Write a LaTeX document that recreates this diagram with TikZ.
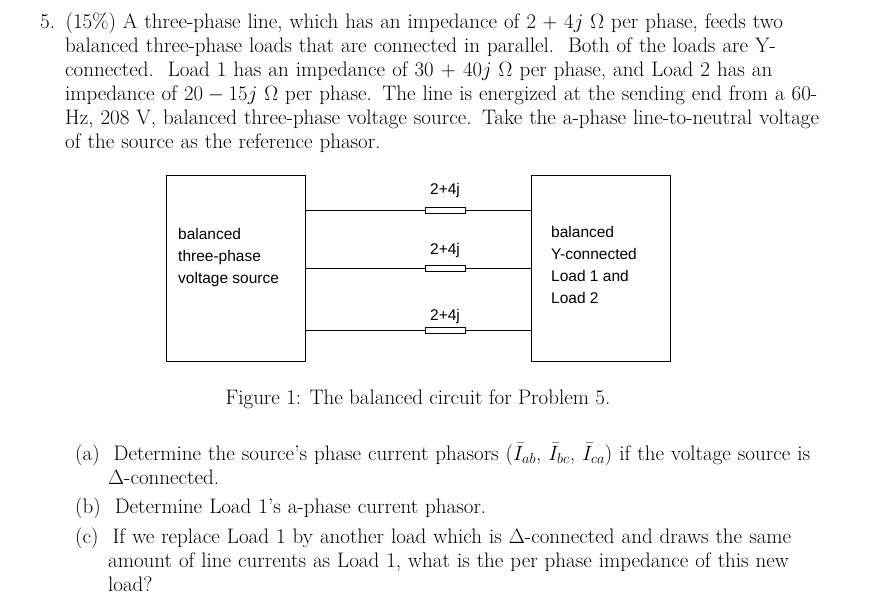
\documentclass[tikz,border=0pt]{standalone}
\usepackage{fontspec}
\newfontfamily\arialf{Liberation Sans}
\begin{document}
\begin{tikzpicture}[x=1pt,y=-1pt,
  box/.style={draw,line width=0.9pt},
  wire/.style={line width=0.9pt},
  res/.style={draw,line width=0.9pt,fill=white,minimum width=40pt,minimum height=6pt,inner sep=0pt},
  lbl/.style={font=\arialf\fontsize{15.5}{18}\selectfont,inner sep=0pt},
  body/.style={inner sep=0pt,anchor=north west,font=\fontsize{21}{24}\selectfont}]
\useasboundingbox (0,0) rectangle (873,615);
\node[body,text width=780pt] (para) at (40,13) {\hangindent=25pt\hangafter=1\noindent
5. (15\%) A three-phase line, which has an impedance of $2+4j$ $\Omega$ per phase, feeds two\linebreak
balanced three-phase loads that are connected in parallel.\ \ Both of the loads are Y-\linebreak
connected.\ \ Load 1 has an impedance of $30+40j$ $\Omega$ per phase, and Load 2 has an\linebreak
impedance of $20-15j$ $\Omega$ per phase. The line is energized at the sending end from a 60-\linebreak
Hz, 208 V, balanced three-phase voltage source. Take the a-phase line-to-neutral voltage\linebreak
of the source as the reference phasor.\par};
\node[box,minimum width=139pt,minimum height=186pt,inner sep=0pt] (src) at (235.5,268) {};
\node[box,minimum width=139pt,minimum height=186pt,inner sep=0pt] (load) at (600.5,268) {};
\node[lbl,anchor=west,align=left] (srct) at (178,257) {balanced\\[4pt]three-phase\\[4pt]voltage source};
\node[lbl,anchor=west,align=left] (loadt) at (551,265) {balanced\\[4pt]Y-connected\\[4pt]Load 1 and\\[4pt]Load 2};
\foreach \i/\y/\ly in {1/210/190,2/268/250,3/330/316}{
  \coordinate (l\i) at (src.east |- 0,\y);
  \coordinate (r\i) at (load.west |- 0,\y);
  \draw[wire] (l\i) -- (r\i);
  \node[res] (R\i) at (445,\y) {};
  \node[lbl] (L\i) at (445,\ly) {2+4j};
}
\node[inner sep=0pt,font=\fontsize{21}{24}\selectfont] (cap) at (418,399) {Figure 1: The balanced circuit for Problem 5.};
\node[body,text width=745pt] (qa) at (75,443) {\hangindent=33pt\hangafter=1\noindent
(a)\ \ Determine the source's phase current phasors ($\bar I_{ab}$, $\bar I_{bc}$, $\bar I_{ca}$) if the voltage source is\linebreak
$\Delta$-connected.\par};
\node[body,text width=745pt] (qb) at (75,498) {(b)\ \ Determine Load 1's a-phase current phasor.};
\node[body,text width=745pt] (qc) at (75,528) {\hangindent=33pt\hangafter=1\noindent
(c)\ \ If we replace Load 1 by another load which is $\Delta$-connected and draws the same\linebreak
amount of line currents as Load 1, what is the per phase impedance of this new\linebreak
load?\par};
\end{tikzpicture}
\end{document}
